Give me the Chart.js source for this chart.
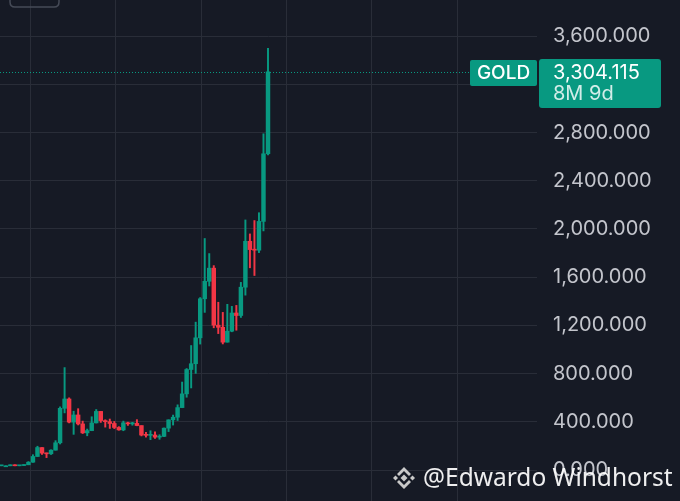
<!DOCTYPE html>
<html>
<head>
<meta charset="utf-8">
<script src="https://cdn.jsdelivr.net/npm/chart.js@4/dist/chart.umd.min.js"></script>
<style>
  html, body { margin: 0; padding: 0; background: #161a25; }
  #wrap { width: 680px; height: 501px; position: relative; }
</style>
</head>
<body>
<div id="wrap"><canvas id="goldChart"></canvas></div>
<script>
// yearly GOLD candles, 1966 .. 2025 (last one still open)
const years = [1966, 1967, 1968, 1969, 1970, 1971, 1972, 1973, 1974, 1975,
  1976, 1977, 1978, 1979, 1980, 1981, 1982, 1983, 1984, 1985,
  1986, 1987, 1988, 1989, 1990, 1991, 1992, 1993, 1994, 1995,
  1996, 1997, 1998, 1999, 2000, 2001, 2002, 2003, 2004, 2005,
  2006, 2007, 2008, 2009, 2010, 2011, 2012, 2013, 2014, 2015,
  2016, 2017, 2018, 2019, 2020, 2021, 2022, 2023, 2024, 2025];
const opens = [35.1, 35.2, 35.2, 41.1, 35.2, 37.4, 43.6, 64.9, 112.3, 186.5,
  140.3, 134.5, 164.9, 226, 512, 589.5, 397.5, 456.9, 382.4, 308.3,
  327, 391, 486.5, 410.2, 401, 386.2, 353.2, 333, 391.8, 383.3,
  387, 369, 290.2, 287.8, 290.3, 272.7, 279, 347.5, 416.3, 438,
  518, 632, 834, 882, 1097, 1421, 1566, 1675, 1202, 1184,
  1061, 1152, 1303, 1282, 1517, 1898, 1829, 1824, 2063, 2624];
const highs = [35.4, 35.5, 43.5, 43.8, 39.2, 44.6, 70, 127, 197.5, 186.5,
  141, 168, 243.7, 524, 850, 599, 488, 509, 406, 340,
  442, 502, 487, 417, 423, 403, 360, 406, 397, 396,
  418, 367, 313, 326, 316, 293, 349, 417, 456, 541,
  730, 842, 1033, 1227, 1431, 1921, 1796, 1696, 1392, 1308,
  1375, 1358, 1366, 1557, 2075, 1959, 2070, 2135, 2790, 3500];
const lows = [34.9, 35, 35, 35, 34.8, 37.3, 43.5, 63.9, 112, 128.8,
  103, 129, 165, 216, 474, 391, 296, 374, 303, 284,
  326, 390, 395, 356, 345, 344, 330, 326, 370, 372,
  367, 283, 273, 252, 263, 255, 277, 319, 373, 411,
  517, 604, 681, 802, 1045, 1308, 1527, 1180, 1132, 1046,
  1061, 1147, 1160, 1266, 1451, 1678, 1614, 1804, 1984, 2614];
const closes = [35.2, 35.2, 41.1, 35.2, 37.4, 43.6, 64.9, 112.3, 186.5, 140.3,
  134.5, 164.9, 226, 512, 589.5, 397.5, 456.9, 382.4, 308.3, 327,
  391, 486.5, 410.2, 401, 386.2, 353.2, 333, 391.8, 383.3, 387,
  369, 290.2, 287.8, 290.3, 272.7, 279, 347.5, 416.3, 438, 518,
  632, 834, 882, 1097, 1421, 1566, 1675, 1202, 1184, 1061,
  1152, 1303, 1282, 1517, 1898, 1829, 1824, 2063, 2624, 3304.115];

const priceTicks = [0, 400, 800, 1200, 1600, 2000, 2400, 2800, 3200, 3600];
const timeGrid = [1972.35, 1991.27, 2010.19, 2029.1, 2048.0, 2066.9];
const symbol = 'GOLD';
const countdown = '8M 9d';

const UP = '#089981';
const DOWN = '#f23645';
const isUp = i => closes[i] >= opens[i];

const wickData = years.map((y, i) => ({ x: y, y: [lows[i], highs[i]] }));
const bodyData = years.map((y, i) => ({ x: y, y: [opens[i], closes[i]] }));

const fmt = v => v.toLocaleString('en-US', { minimumFractionDigits: 3, maximumFractionDigits: 3 });

// size the price font so a label like "3,600.000" is about 97px wide
const mctx = document.createElement('canvas').getContext('2d');
mctx.font = '20px Inter';
const labelSize = Math.round(20 * 97 / mctx.measureText('3,600.000').width * 2) / 2;

function roundRect(ctx, x, y, w, h, r) {
  ctx.beginPath();
  ctx.moveTo(x + r, y);
  ctx.lineTo(x + w - r, y);
  ctx.quadraticCurveTo(x + w, y, x + w, y + r);
  ctx.lineTo(x + w, y + h - r);
  ctx.quadraticCurveTo(x + w, y + h, x + w - r, y + h);
  ctx.lineTo(x + r, y + h);
  ctx.quadraticCurveTo(x, y + h, x, y + h - r);
  ctx.lineTo(x, y + r);
  ctx.quadraticCurveTo(x, y, x + r, y);
  ctx.closePath();
}

const overlay = {
  id: 'overlay',
  beforeDatasetsDraw(chart) {
    const ctx = chart.ctx;
    const yPx = chart.scales.y.getPixelForValue(closes[closes.length - 1]);
    ctx.save();
    ctx.strokeStyle = UP;
    ctx.lineWidth = 1;
    ctx.setLineDash([1, 2]);
    ctx.beginPath();
    ctx.moveTo(0, Math.round(yPx) + 0.5);
    ctx.lineTo(470, Math.round(yPx) + 0.5);
    ctx.stroke();
    ctx.restore();
  },
  afterDraw(chart) {
    const ctx = chart.ctx;
    const last = closes[closes.length - 1];
    const yPx = Math.round(chart.scales.y.getPixelForValue(last));
    ctx.save();
    // top-left button outline
    ctx.strokeStyle = '#464b57';
    ctx.lineWidth = 1.5;
    roundRect(ctx, 10, -12, 49, 19, 5);
    ctx.stroke();

    // price tag
    ctx.fillStyle = UP;
    roundRect(ctx, 470, yPx - 12, 67, 26, 2);
    ctx.fill();
    roundRect(ctx, 539, yPx - 13, 122, 49, 3);
    ctx.fill();
    ctx.textBaseline = 'middle';
    ctx.font = '500 ' + (labelSize - 1) + 'px Inter';
    ctx.fillStyle = '#ffffff';
    ctx.textAlign = 'center';
    ctx.fillText(symbol, 503.5, yPx + 1);
    ctx.textAlign = 'left';
    ctx.font = labelSize + 'px Inter';
    ctx.fillText(fmt(last), 553, yPx + 1);
    ctx.fillStyle = 'rgba(255,255,255,0.82)';
    ctx.fillText(countdown, 553, yPx + 22);

    // watermark
    ctx.fillStyle = '#c9c9c9';
    const cx = 404, cy = 478;
    const dia = (x, y, r) => {
      ctx.beginPath();
      ctx.moveTo(x, y - r); ctx.lineTo(x + r, y); ctx.lineTo(x, y + r); ctx.lineTo(x - r, y);
      ctx.closePath(); ctx.fill();
    };
    dia(cx, cy, 3.5);
    dia(cx - 8.5, cy, 2.5);
    dia(cx + 8.5, cy, 2.5);
    [-1, 1].forEach(s => {
      ctx.beginPath();
      ctx.moveTo(cx, cy + s * 11);
      ctx.lineTo(cx + 7, cy + s * 4);
      ctx.lineTo(cx + 5, cy + s * 2);
      ctx.lineTo(cx, cy + s * 7);
      ctx.lineTo(cx - 5, cy + s * 2);
      ctx.lineTo(cx - 7, cy + s * 4);
      ctx.closePath();
      ctx.fill();
    });
    ctx.font = '24.5px "Noto Sans"';
    ctx.fillStyle = 'rgba(255,255,255,0.93)';
    ctx.textBaseline = 'alphabetic';
    ctx.fillText('@Edwardo Windhorst', 423, 486);
    ctx.restore();
  }
};

new Chart(document.getElementById('goldChart'), {
  type: 'bar',
  data: {
    datasets: [{
      label: 'wick',
      data: wickData,
      barThickness: 1.3,
      backgroundColor: c => isUp(c.dataIndex) ? UP : DOWN,
      grouped: false,
      order: 2
    }, {
      label: 'body',
      data: bodyData,
      barThickness: 3.8,
      minBarLength: 1,
      backgroundColor: c => isUp(c.dataIndex) ? UP : DOWN,
      grouped: false,
      order: 1
    }]
  },
  options: {
    responsive: true,
    maintainAspectRatio: false,
    animation: false,
    layout: { padding: 0 },
    plugins: { legend: { display: false }, tooltip: { enabled: false } },
    scales: {
      x: {
        type: 'linear',
        min: 1965.71,
        max: 2084.51,
        offset: false,
        grid: { color: '#292d38', lineWidth: 1, drawTicks: false, offset: false },
        border: { display: false },
        ticks: { display: false },
        afterBuildTicks: s => { s.ticks = timeGrid.map(v => ({ value: v })); },
        afterFit: s => { s.height = 0; s.paddingLeft = 0; s.paddingRight = 0; }
      },
      y: {
        position: 'right',
        min: -257,
        max: 3900,
        grid: { color: '#292d38', lineWidth: 1, drawTicks: false },
        border: { display: false },
        ticks: {
          padding: 16,
          color: '#c3c5cc',
          font: { family: 'Inter', size: labelSize },
          callback: v => fmt(v)
        },
        afterBuildTicks: s => { s.ticks = priceTicks.map(v => ({ value: v })); },
        afterFit: s => { s.width = 143; s.paddingTop = 0; s.paddingBottom = 0; }
      }
    }
  },
  plugins: [overlay]
});
</script>
</body>
</html>
